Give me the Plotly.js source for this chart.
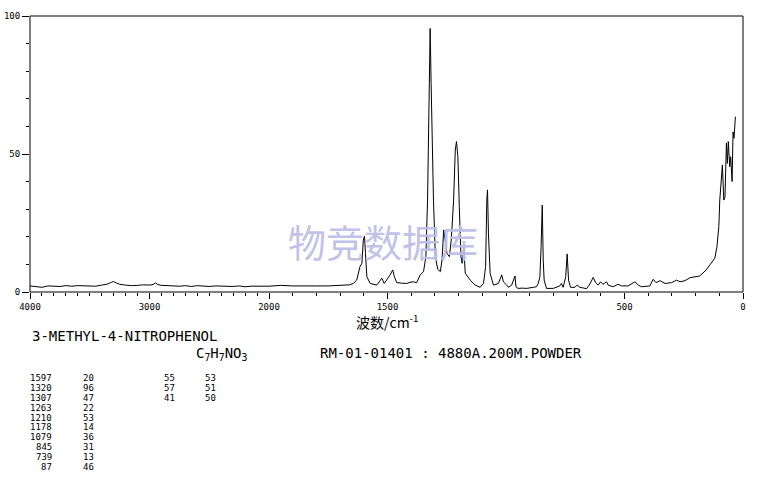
<!DOCTYPE html>
<html><head><meta charset="utf-8">
<script src="https://cdn.plot.ly/plotly-3.0.1.min.js"></script>
<style>html,body{margin:0;padding:0;background:#fff}#chart{width:765px;height:481px}</style>
</head><body><div id="chart"></div>
<script>
// Spectrum, compressed region 4000-2000 cm-1
const wnHigh = [4000,3950,3900,3850,3800,3750,3700,3650,3600,3550,3500,3450,3400,3350,3320,3300,3280,3250,3200,3150,3100,3050,3000,2970,2950,2930,2900,2850,2800,2750,2700,2650,2600,2550,2500,2450,2400,2350,2300,2250,2200,2150,2100,2050,2000];
const intHigh = [2.2,1.9,1.7,2.2,2.1,2.0,2.3,2.1,2.3,2.2,2.3,2.1,2.5,2.9,3.5,3.8,3.3,2.8,2.5,2.3,2.4,2.6,2.5,2.7,3.3,2.7,2.4,2.3,2.4,2.1,2.3,2.0,2.3,2.2,2.0,2.2,2.1,2.2,2.0,2.2,1.9,2.1,2.1,2.2,2.1];
// Spectrum, 2000-0 cm-1
const wnLow = [2000,1950,1900,1850,1800,1750,1700,1680,1660,1644,1630,1616,1608,1602,1597,1593,1587,1573,1545,1524,1514,1489,1478,1471,1461,1440,1419,1405,1391,1377,1362,1348,1338,1331,1324,1320,1316,1311,1306,1298,1288,1277,1270,1263,1256,1249,1239,1231,1221,1214,1209,1203,1197,1190,1185,1178,1172,1162,1151,1130,1109,1095,1086,1081,1078,1074,1067,1053,1032,1018,1011,997,990,976,967,962,958,949,930,913,885,871,864,857,852,847,843,839,829,801,773,766,759,748,742,736,728,709,700,688,660,646,632,622,611,601,591,576,569,548,527,512,485,456,442,428,393,379,367,350,329,301,280,266,245,223,183,155,140,119,110,102,98,91,87,81,76,70,66,62,56,52,46,42,38,32];
const intLow = [2.1,2.4,2.2,2.1,2.2,2.2,2.4,2.5,2.6,3.1,4.3,9.2,10.4,18.8,20.3,14,5.5,3.1,2.5,5.0,3.1,6.2,8.0,5.5,3.4,3.2,3.1,3.5,3.7,3.4,6.2,7.4,12.8,33.3,75.6,95.5,75.6,47.8,33.3,12.8,8.2,7.4,11.6,22.5,18.8,14,12.8,18.8,33.3,51.4,54.5,49,30.9,12.8,10.4,16.4,6.8,5.5,4.3,2.5,1.7,3.1,9.2,33.3,37,21.3,6.8,2.5,3.1,6.2,3.7,2.5,1.7,2.5,4.3,5.8,1.9,1.3,1.4,1.3,1.7,1.9,3.1,5.5,16.4,31.5,11.6,4.3,1.3,1.3,2.2,3.1,1.7,5.5,13.8,4.3,1.7,1.7,2.5,1.7,1.2,2.9,5.3,3.4,2.5,3.7,2.8,3.7,2.5,1.9,2.8,2.2,2.2,3.7,2.5,1.9,2.2,4.6,3.4,4.1,3.1,3.4,4.3,3.7,4.1,5.2,5.8,8.0,9.8,12.2,16.4,23.7,33.3,40,46,33.3,34.5,53.9,46.6,54.5,45.4,49,40,58,55.7,63.5];

const xTicksHigh = [4000,3000];
const xTickTextHigh = ['4000','3000'];
const xTicksLow = [2000,1500,500,0];
const xTickTextLow = ['2000','1500','500','0'];
const yTicks = [0,50,100];
const yTickText = ['0','50','100'];

const compoundName = '3-METHYL-4-NITROPHENOL';
const formula = 'C<sub>7</sub>H<sub>7</sub>NO<sub>3</sub>';
const sampleInfo = 'RM-01-01401 : 4880A.200M.POWDER';
const axisLabel = '波数/cm<sup>-1</sup>';
const watermark = '物竞数据库';

const peakWaveA = ['1597','1320','1307','1263','1210','1178','1079','845','739','87'];
const peakIntA  = ['20','96','47','22','53','14','36','31','13','46'];
const peakWaveB = ['55','57','41'];
const peakIntB  = ['53','51','50'];

const W=765, H=481, L=30, R=22, T=16, B=189;
const pw=W-L-R, ph=H-T-B;
const px = x => (x-L)/pw;
const py = y => (H-B-y)/ph;
const split = px(269);

const mono = 'DejaVu Sans Mono, Liberation Mono, monospace';
const tickFont = {family: mono, size: 9, color: '#000'};

const traces = [
  {x: wnHigh, y: intHigh, xaxis: 'x', yaxis: 'y', mode: 'lines', line: {color: '#000', width: 1}, hoverinfo: 'skip'},
  {x: wnLow, y: intLow, xaxis: 'x2', yaxis: 'y', mode: 'lines', line: {color: '#000', width: 1}, hoverinfo: 'skip'}
];

const ann = [];
function txt(text, x, y, opts) {
  ann.push(Object.assign({text: text, x: px(x), y: py(y), xref: 'paper', yref: 'paper', showarrow: false,
    xanchor: 'left', yanchor: 'middle', font: {family: mono, size: 14, color: '#000'}}, opts || {}));
}
txt(compoundName, 30, 336);
txt(formula, 194, 354);
txt(sampleInfo, 318, 353);
txt(axisLabel, 386.5, 321, {xanchor: 'center', font: {family: 'Noto Sans CJK SC', size: 14, color: '#000'}});
txt(watermark, 383, 240, {xanchor: 'center', font: {family: 'Noto Sans CJK SC', size: 38, color: 'rgba(190,190,232,0.95)'}});
const tf = {family: mono, size: 9, color: '#000'};
peakWaveA.forEach((w,i) => { txt(w, 54, 378.3 + 9.8*i, {xanchor: 'right', font: tf}); });
peakIntA.forEach((v,i) => { txt(v, 81, 378.3 + 9.8*i, {font: tf}); });
peakWaveB.forEach((w,i) => { txt(w, 162, 378.3 + 9.8*i, {font: tf}); });
peakIntB.forEach((v,i) => { txt(v, 203, 378.3 + 9.8*i, {font: tf}); });

const layout = {
  width: W, height: H,
  margin: {l: L, r: R, t: T, b: B, pad: 0},
  paper_bgcolor: '#fff', plot_bgcolor: '#fff',
  showlegend: false,
  xaxis: {domain: [0, split], range: [4000, 2000], anchor: 'y',
    tickmode: 'array', tickvals: xTicksHigh, ticktext: xTickTextHigh,
    ticks: 'outside', ticklen: 6, tickcolor: '#000', tickwidth: 1,
    minor: {tickmode: 'linear', tick0: 0, dtick: 100, ticks: 'outside', ticklen: 3, tickcolor: '#000', showgrid: false},
    showgrid: false, zeroline: false, showline: false, tickfont: tickFont},
  xaxis2: {domain: [split, 1], range: [2000, 0], anchor: 'y',
    tickmode: 'array', tickvals: xTicksLow, ticktext: xTickTextLow,
    ticks: 'outside', ticklen: 6, tickcolor: '#000', tickwidth: 1,
    minor: {tickmode: 'linear', tick0: 0, dtick: 100, ticks: 'outside', ticklen: 3, tickcolor: '#000', showgrid: false},
    showgrid: false, zeroline: false, showline: false, tickfont: tickFont},
  yaxis: {domain: [0, 1], range: [0, 100], anchor: 'x',
    tickmode: 'array', tickvals: yTicks, ticktext: yTickText,
    ticks: 'outside', ticklen: 7, tickcolor: '#000', tickwidth: 1,
    minor: {tickmode: 'linear', tick0: 0, dtick: 10, ticks: 'outside', ticklen: 3, tickcolor: '#000', showgrid: false},
    showgrid: false, zeroline: false, showline: false, tickfont: tickFont},
  shapes: [{type: 'rect', xref: 'paper', yref: 'paper', x0: 0, x1: 1, y0: 0, y1: 1, line: {color: '#000', width: 1}}],
  annotations: ann
};

Plotly.newPlot('chart', traces, layout, {displayModeBar: false, staticPlot: true});
</script>
</body></html>
